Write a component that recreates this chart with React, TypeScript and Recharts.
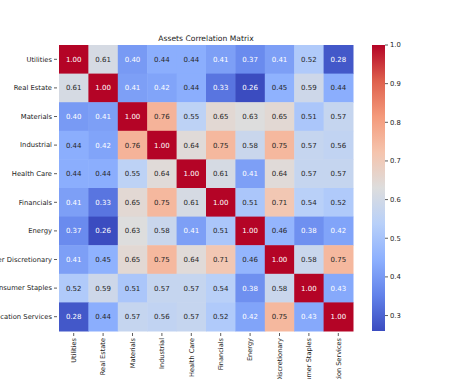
import { Scatter, ScatterChart, XAxis, YAxis } from "recharts"

const sectors = [
  "Utilities",
  "Real Estate",
  "Materials",
  "Industrial",
  "Health Care",
  "Financials",
  "Energy",
  "Consumer Discretionary",
  "Consumer Staples",
  "Communication Services",
]

const utilities = [1.0, 0.61, 0.4, 0.44, 0.44, 0.41, 0.37, 0.41, 0.52, 0.28]
const realEstate = [0.61, 1.0, 0.41, 0.42, 0.44, 0.33, 0.26, 0.45, 0.59, 0.44]
const materials = [0.4, 0.41, 1.0, 0.76, 0.55, 0.65, 0.63, 0.65, 0.51, 0.57]
const industrial = [0.44, 0.42, 0.76, 1.0, 0.64, 0.75, 0.58, 0.75, 0.57, 0.56]
const healthCare = [0.44, 0.44, 0.55, 0.64, 1.0, 0.61, 0.41, 0.64, 0.57, 0.57]
const financials = [0.41, 0.33, 0.65, 0.75, 0.61, 1.0, 0.51, 0.71, 0.54, 0.52]
const energy = [0.37, 0.26, 0.63, 0.58, 0.41, 0.51, 1.0, 0.46, 0.38, 0.42]
const consDisc = [0.41, 0.45, 0.65, 0.75, 0.64, 0.71, 0.46, 1.0, 0.58, 0.75]
const consStaples = [0.52, 0.59, 0.51, 0.57, 0.57, 0.54, 0.38, 0.58, 1.0, 0.43]
const commServices = [0.28, 0.44, 0.57, 0.56, 0.57, 0.52, 0.42, 0.75, 0.43, 1.0]

const matrix = [
  utilities,
  realEstate,
  materials,
  industrial,
  healthCare,
  financials,
  energy,
  consDisc,
  consStaples,
  commServices,
]

const colorbarTicks = [0.3, 0.4, 0.5, 0.6, 0.7, 0.8, 0.9, 1.0]

const V_MIN = 0.26
const V_MAX = 1.0

// coolwarm anchors
const cmap: [number, number, number][] = [
  [59, 76, 192],
  [98, 130, 234],
  [141, 176, 254],
  [184, 208, 249],
  [221, 221, 221],
  [245, 196, 173],
  [244, 154, 123],
  [222, 96, 77],
  [180, 4, 38],
]

function rgbAt(t: number): [number, number, number] {
  const c = Math.min(1, Math.max(0, t)) * (cmap.length - 1)
  const i = Math.min(cmap.length - 2, Math.floor(c))
  const f = c - i
  const a = cmap[i]
  const b = cmap[i + 1]
  return [0, 1, 2].map((k) => Math.round(a[k] + (b[k] - a[k]) * f)) as [
    number,
    number,
    number,
  ]
}

function colorFor(v: number) {
  const [r, g, b] = rgbAt((v - V_MIN) / (V_MAX - V_MIN))
  return `rgb(${r},${g},${b})`
}

function textColorFor(v: number) {
  const rgb = rgbAt((v - V_MIN) / (V_MAX - V_MIN)).map((c) => {
    const s = c / 255
    return s <= 0.03928 ? s / 12.92 : Math.pow((s + 0.055) / 1.055, 2.4)
  })
  const lum = 0.2126 * rgb[0] + 0.7152 * rgb[1] + 0.0722 * rgb[2]
  return lum > 0.408 ? "#262626" : "#ffffff"
}

const data = matrix.flatMap((row, i) =>
  row.map((v, j) => ({ x: j + 0.5, y: i + 0.5, v })),
)

const W = 474
const H = 379
const PLOT_LEFT = 59
const PLOT_TOP = 45
const PLOT_RIGHT = 353
const PLOT_BOTTOM = 331
const CELL_W = (PLOT_RIGHT - PLOT_LEFT) / sectors.length
const CELL_H = (PLOT_BOTTOM - PLOT_TOP) / sectors.length
const positions = sectors.map((_, i) => i + 0.5)

const FONT = "DejaVu Sans, sans-serif"

function HeatCell(props: any) {
  const { cx, cy, payload } = props
  return (
    <g>
      <rect
        x={cx - CELL_W / 2}
        y={cy - CELL_H / 2}
        width={CELL_W + 0.5}
        height={CELL_H + 0.5}
        fill={colorFor(payload.v)}
      />
      <text
        x={cx}
        y={cy}
        dy="0.35em"
        textAnchor="middle"
        fontSize={7}
        fontFamily={FONT}
        fill={textColorFor(payload.v)}
      >
        {payload.v.toFixed(2)}
      </text>
    </g>
  )
}

function XTick(props: any) {
  const { x, y, payload } = props
  return (
    <g>
      <line x1={x} x2={x} y1={y - 5} y2={y - 2} stroke="#333" strokeWidth={0.8} />
      <text
        x={x}
        y={y}
        dy="0.35em"
        textAnchor="end"
        fontSize={6.6}
        fontFamily={FONT}
        fill="#222"
        transform={`rotate(-90, ${x}, ${y})`}
      >
        {sectors[Math.floor(payload.value)]}
      </text>
    </g>
  )
}

function YTick(props: any) {
  const { x, y, payload } = props
  return (
    <g>
      <line x1={x + 2} x2={x + 5} y1={y} y2={y} stroke="#333" strokeWidth={0.8} />
      <text
        x={x}
        y={y}
        dy="0.35em"
        textAnchor="end"
        fontSize={6.8}
        fontFamily={FONT}
        fill="#222"
      >
        {sectors[Math.floor(payload.value)]}
      </text>
    </g>
  )
}

function Colorbar() {
  const left = 372
  const right = 385
  const top = 45
  const bottom = 331
  const yFor = (t: number) =>
    top + (1 - (t - V_MIN) / (V_MAX - V_MIN)) * (bottom - top)
  return (
    <svg
      width={W}
      height={H}
      style={{ position: "absolute", left: 0, top: 0, pointerEvents: "none" }}
    >
      <defs>
        <linearGradient id="cbar" x1="0" y1="1" x2="0" y2="0">
          {cmap.map((c, i) => (
            <stop
              key={i}
              offset={`${(i / (cmap.length - 1)) * 100}%`}
              stopColor={`rgb(${c[0]},${c[1]},${c[2]})`}
            />
          ))}
        </linearGradient>
      </defs>
      <rect
        x={left}
        y={top}
        width={right - left}
        height={bottom - top}
        fill="url(#cbar)"
      />
      {colorbarTicks.map((t) => (
        <g key={t}>
          <line
            x1={right}
            x2={right + 3}
            y1={yFor(t)}
            y2={yFor(t)}
            stroke="#333"
            strokeWidth={0.8}
          />
          <text
            x={right + 5}
            y={yFor(t)}
            dy="0.35em"
            fontSize={6.8}
            fontFamily={FONT}
            fill="#222"
          >
            {t.toFixed(1)}
          </text>
        </g>
      ))}
    </svg>
  )
}

export default function App() {
  return (
    <div
      style={{
        position: "absolute",
        left: 0,
        top: 0,
        width: W,
        height: H,
        background: "#fff",
      }}
    >
      <ScatterChart
        width={W}
        height={H}
        margin={{ top: PLOT_TOP, right: W - PLOT_RIGHT, bottom: 0, left: 0 }}
      >
        <text
          x={(PLOT_LEFT + PLOT_RIGHT) / 2}
          y={PLOT_TOP - 4}
          textAnchor="middle"
          fontSize={7.6}
          fontFamily={FONT}
          fill="#222"
        >
          Assets Correlation Matrix
        </text>
        <XAxis
          type="number"
          dataKey="x"
          domain={[0, sectors.length]}
          ticks={positions}
          interval={0}
          axisLine={false}
          tickLine={false}
          tickSize={5}
          height={H - PLOT_BOTTOM}
          tick={<XTick />}
        />
        <YAxis
          type="number"
          dataKey="y"
          domain={[0, sectors.length]}
          reversed
          ticks={positions}
          interval={0}
          axisLine={false}
          tickLine={false}
          tickSize={5}
          width={PLOT_LEFT}
          tick={<YTick />}
        />
        <Scatter data={data} shape={HeatCell} isAnimationActive={false} />
      </ScatterChart>
      <Colorbar />
    </div>
  )
}
